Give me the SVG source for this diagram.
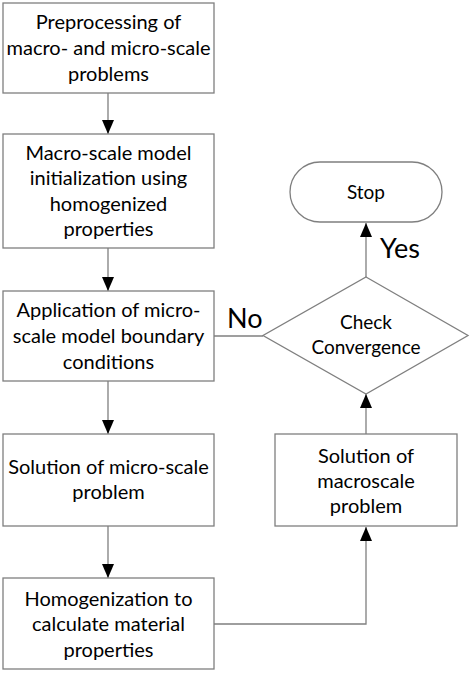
<svg xmlns="http://www.w3.org/2000/svg" width="474" height="674" viewBox="0 0 474 674">
<style>
.box{fill:#fff;stroke:#7f7f7f;stroke-width:1.3}
.t{font-family:Lato,"Open Sans",sans-serif;font-size:20px;fill:#000;text-anchor:middle}
.s{font-size:19px}
.lbl{font-family:Lato,"Open Sans",sans-serif;font-size:27px;fill:#000}
.c{fill:none;stroke:#7f7f7f;stroke-width:1.3}
</style>
<defs>
<marker id="ah" markerWidth="14" markerHeight="12" refX="14" refY="6" orient="auto" markerUnits="userSpaceOnUse" viewBox="0 0 14 12">
<path d="M0,0 L14,6 L0,12 Z" fill="#000"/>
</marker>
</defs>
<rect width="474" height="674" fill="#fff"/>
<g id="connectors">
<path class="c" d="M108,93 V134" marker-end="url(#ah)"/>
<path class="c" d="M108,248 V291" marker-end="url(#ah)"/>
<path class="c" d="M108,381 V434" marker-end="url(#ah)"/>
<path class="c" d="M108,526 V578" marker-end="url(#ah)"/>
<path class="c" d="M214,624 H366 V527" marker-end="url(#ah)"/>
<path class="c" d="M366,434 V394" marker-end="url(#ah)"/>
<path class="c" d="M366,277 V223" marker-end="url(#ah)"/>
<path class="c" d="M214,336 H263"/>
<text class="lbl" x="227" y="328">No</text>
<text class="lbl" x="380" y="258">Yes</text>
</g>
<g id="preprocessing">
<rect class="box" x="3" y="3" width="211" height="90"/>
<text class="t" x="108.5" y="28.5">Preprocessing of</text>
<text class="t" x="108.5" y="54.5">macro- and micro-scale</text>
<text class="t" x="108.5" y="80.5">problems</text>
</g>
<g id="initialization">
<rect class="box" x="3" y="134" width="211" height="114"/>
<text class="t" x="108.5" y="159.5">Macro-scale model</text>
<text class="t" x="108.5" y="185">initialization using</text>
<text class="t" x="108.5" y="210.5">homogenized</text>
<text class="t" x="108.5" y="236">properties</text>
</g>
<g id="boundary">
<rect class="box" x="3" y="291" width="211" height="90"/>
<text class="t" x="108.5" y="316.5">Application of micro-</text>
<text class="t" x="108.5" y="342.5">scale model boundary</text>
<text class="t" x="108.5" y="368.5">conditions</text>
</g>
<g id="micro-solution">
<rect class="box" x="3" y="434" width="211" height="92"/>
<text class="t" x="108.5" y="473.5">Solution of micro-scale</text>
<text class="t" x="108.5" y="498.5">problem</text>
</g>
<g id="homogenization">
<rect class="box" x="3" y="578" width="211" height="91"/>
<text class="t" x="108.5" y="605.5">Homogenization to</text>
<text class="t" x="108.5" y="630.5">calculate material</text>
<text class="t" x="108.5" y="656.5">properties</text>
</g>
<g id="macro-solution">
<rect class="box" x="275" y="434" width="182" height="92"/>
<text class="t" x="366" y="462.5">Solution of</text>
<text class="t" x="366" y="487.5">macroscale</text>
<text class="t" x="366" y="512.5">problem</text>
</g>
<g id="check">
<path class="box" d="M366,277 L468,335.5 L366,394 L263,335.5 Z"/>
<text class="t s" x="366" y="328.5">Check</text>
<text class="t s" x="366" y="353.5">Convergence</text>
</g>
<g id="stop">
<rect class="box" x="290" y="162" width="152" height="60" rx="30" ry="30"/>
<text class="t s" x="366" y="198.5">Stop</text>
</g>
</svg>
